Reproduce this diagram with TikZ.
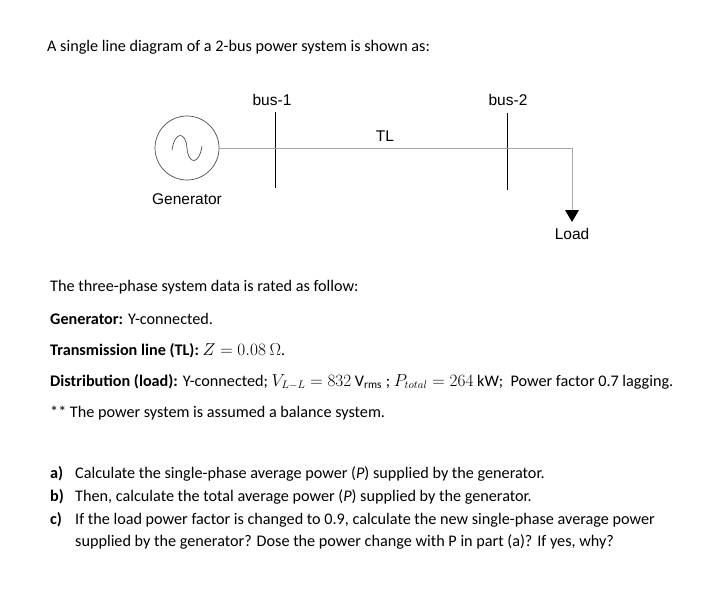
\documentclass[tikz,border=0pt]{standalone}
\usepackage{fontspec}
\setmainfont{Carlito}
\newfontfamily\arial{Liberation Sans}
\begin{document}
\begin{tikzpicture}[x=1pt,y=-1pt,
  txt/.style={anchor=west,inner sep=0pt,font=\fontsize{16.2}{19}\selectfont},
  dlab/.style={inner sep=0pt,font=\arial\fontsize{15.5}{18}\selectfont},
  wire/.style={draw=black!35,line width=0.8pt},
  busbar/.style={draw=black,line width=0.9pt}]
\useasboundingbox (0,0) rectangle (725,610);
\node[txt] (t0) at (47,47) {A single line diagram of a 2-bus power system is shown as:};
% diagram
\node[circle,draw=black!70,line width=0.7pt,minimum size=64pt,inner sep=0pt] (gen) at (187,148) {};
\draw[black!70,line width=0.7pt] (172,150) .. controls (175,130) and (186,132) .. (187,148) .. controls (188,164) and (199,166) .. (202,146);
\node[dlab] (genl) at (187,199) {Generator};
\coordinate (b1t) at (275,112); \coordinate (b1b) at (275,188);
\coordinate (b2t) at (507,113); \coordinate (b2b) at (507,190);
\draw[busbar] (b1t) -- (b1b);
\draw[busbar] (b2t) -- (b2b);
\node[dlab] (bus1) at (272,100) {bus-1};
\node[dlab] (bus2) at (508,100) {bus-2};
\node[dlab] (tl) at (385,136) {TL};
\coordinate (corner) at (572,148);
\coordinate (tip) at (572,222);
\draw[wire] (gen.east) -- (corner) -- (572,212);
\fill (565,210) -- (579,210) -- (tip) -- cycle;
\node[dlab] (load) at (572,234) {Load};
% text
\node[txt] (t1) at (50,287) {The three-phase system data is rated as follow:};
\node[txt] (t2) at (50,319) {\textbf{Generator:} Y-connected.};
\node[txt] (t3) at (50,351) {\textbf{Transmission line (TL):} $Z=0.08\ \Omega$.};
\node[txt] (t4) at (50,382) {\textbf{Distribution (load):} Y-connected; $V_{L-L}=832\ \mathrm{V_{rms}}$ ; $P_{total}=264\ \mathrm{kW}$;\ \ Power factor 0.7 lagging.};
\node[txt] (t5) at (50,413) {** The power system is assumed a balance system.};
\node[txt] (a) at (50,474) {\textbf{a)}};
\node[txt] (at) at (75,474) {Calculate the single-phase average power (\textit{P}) supplied by the generator.};
\node[txt] (b) at (50,497) {\textbf{b)}};
\node[txt] (bt) at (75,497) {Then, calculate the total average power (\textit{P}) supplied by the generator.};
\node[txt] (c) at (50,520) {\textbf{c)}};
\node[txt] (ct) at (75,520) {If the load power factor is changed to 0.9, calculate the new single-phase average power};
\node[txt] (ct2) at (75,542) {supplied by the generator? Dose the power change with P in part (a)? If yes, why?};
\end{tikzpicture}
\end{document}
